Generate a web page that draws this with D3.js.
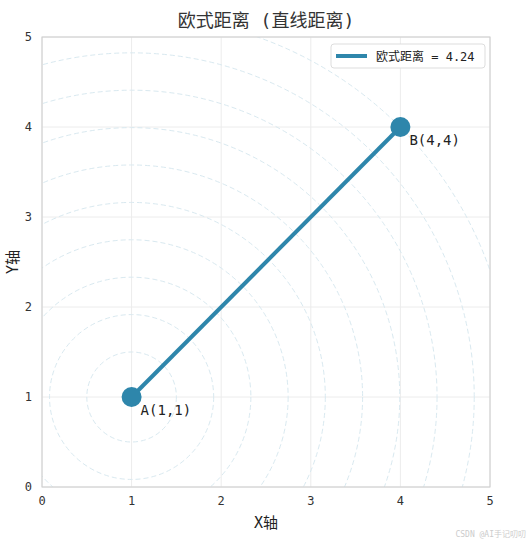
<!DOCTYPE html><html><head><meta charset="utf-8"><script src="https://cdn.jsdelivr.net/npm/d3@7"></script>
<style>body{margin:0;background:#fff}text{font-family:"DejaVu Sans Mono","Noto Sans CJK SC",monospace}</style></head><body><svg id="c" width="529" height="544"></svg><script>
const pointNames=["A","B"];
const xs=[1,4], ys=[1,4];
const ticks=[0,1,2,3,4,5];
const ringRadii=[0.5,0.916,1.331,1.747,2.162,2.578,2.993,3.409,3.824,4.24];
const legendLabel="欧式距离 = 4.24";
const svg=d3.select("#c");
const L=42,R=490,T=37,B=487;
const x=d3.scaleLinear().domain([0,5]).range([L,R]);
const y=d3.scaleLinear().domain([0,5]).range([B,T]);
svg.append("defs").append("clipPath").attr("id","cp").append("rect").attr("x",L).attr("y",T).attr("width",R-L).attr("height",B-T);
const g=svg.append("g");
ticks.forEach(t=>{
 g.append("line").attr("x1",x(t)).attr("x2",x(t)).attr("y1",T).attr("y2",B).attr("stroke","#ececec");
 g.append("line").attr("y1",y(t)).attr("y2",y(t)).attr("x1",L).attr("x2",R).attr("stroke","#ececec");
 g.append("text").attr("x",x(t)).attr("y",B+18).attr("text-anchor","middle").attr("font-size",12).attr("fill","#333").text(t);
 g.append("text").attr("x",L-10).attr("y",y(t)+4).attr("text-anchor","end").attr("font-size",12).attr("fill","#333").text(t);
});
const cg=svg.append("g").attr("clip-path","url(#cp)");
ringRadii.forEach(r=>{
 cg.append("ellipse").attr("cx",x(1)).attr("cy",y(1)).attr("rx",x(r)-x(0)).attr("ry",y(0)-y(r))
 .attr("fill","none").attr("stroke","#d9e9f0").attr("stroke-dasharray","5,3").attr("stroke-width",1);
});
svg.append("rect").attr("x",L).attr("y",T).attr("width",R-L).attr("height",B-T).attr("fill","none").attr("stroke","#ccc");
svg.append("line").attr("x1",x(xs[0])).attr("y1",y(ys[0])).attr("x2",x(xs[1])).attr("y2",y(ys[1])).attr("stroke","#2e86ab").attr("stroke-width",4);
xs.forEach((v,i)=>{
 svg.append("circle").attr("cx",x(v)).attr("cy",y(ys[i])).attr("r",10).attr("fill","#2e86ab");
 svg.append("text").attr("x",x(v)+9).attr("y",y(ys[i])+18).attr("font-size",14).attr("fill","#222").text(`${pointNames[i]}(${v},${ys[i]})`);
});
svg.append("text").attr("x",(L+R)/2).attr("y",27).attr("text-anchor","middle").attr("font-size",18).attr("fill","#333").text("欧式距离 (直线距离)");
svg.append("text").attr("x",(L+R)/2).attr("y",528).attr("text-anchor","middle").attr("font-size",15).attr("fill","#222").text("X轴");
svg.append("text").attr("transform",`translate(18,${(T+B)/2}) rotate(-90)`).attr("text-anchor","middle").attr("font-size",15).attr("fill","#222").text("Y轴");
const lg=svg.append("g");
lg.append("rect").attr("x",331).attr("y",44).attr("width",154).attr("height",24).attr("rx",3).attr("fill","#fff").attr("stroke","#ddd");
lg.append("line").attr("x1",336).attr("x2",367).attr("y1",56).attr("y2",56).attr("stroke","#2e86ab").attr("stroke-width",4);
lg.append("text").attr("x",376).attr("y",61).attr("font-size",12).attr("fill","#222").text(legendLabel);
svg.append("text").attr("x",526).attr("y",537).attr("text-anchor","end").attr("font-size",8).attr("fill","#ccc").text("CSDN @AI手记叨叨");
</script></body></html>
